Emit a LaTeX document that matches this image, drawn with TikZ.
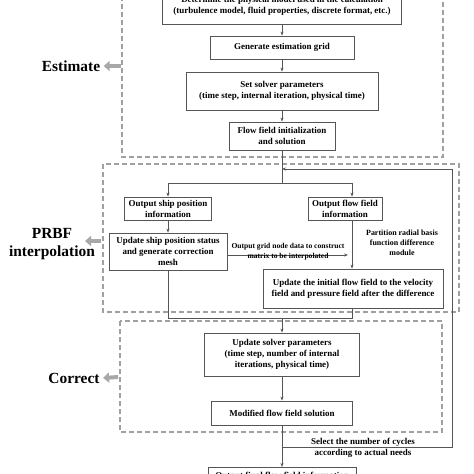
\documentclass[tikz,border=0pt]{standalone}
\usepackage{fontspec}
\setmainfont{Liberation Serif}
\usetikzlibrary{arrows.meta}
\definecolor{boxline}{HTML}{555555}
\definecolor{dashgray}{HTML}{A0A0A0}
\definecolor{bigarrow}{HTML}{A8A8A8}
\tikzset{
  stepbox/.style={draw=boxline, line width=0.8bp, fill=white, align=center, inner sep=1bp,
    font=\bfseries\fontsize{9}{11}\selectfont},
  phase/.style={draw=dashgray, line width=1.4bp, dash pattern=on 5bp off 3bp},
  flow/.style={draw=boxline, line width=0.8bp},
  arr/.style={flow, -{Stealth[length=4bp,width=3bp]}},
  sidearrow/.style={draw=bigarrow, line width=4bp, -{Triangle[length=6bp,width=10bp]}},
  sidelabel/.style={align=center, font=\bfseries\fontsize{15.5}{18}\selectfont},
  note/.style={align=center, font=\bfseries\fontsize{8}{10}\selectfont, inner sep=0pt},
}
\begin{document}
\begin{tikzpicture}[x=1bp, y=-1bp]
\useasboundingbox (0,0) rectangle (474,474);
\clip (0,0) rectangle (474,474);
\fill[white] (0,0) rectangle (474,474);

% phase boxes
\draw[phase] (122,-20) rectangle (443,157);
\draw[phase] (103,164) rectangle (459,312);
\draw[phase] (120,321) rectangle (442,432);

% side labels
\node[sidelabel] (est) at (71,66) {Estimate};
\node[sidelabel] (prbf) at (52,244) {PRBF\\interpolation};
\node[sidelabel] (cor) at (74,378) {Correct};
\coordinate (estE) at (121,66);
\coordinate (prbfE) at (101,241);
\coordinate (corE) at (118,377);
\draw[sidearrow] (estE) -- (est.east);
\draw[sidearrow] (prbfE) -- ++(-16,0);
\draw[sidearrow] (corE) -- (cor.east);

% estimate boxes
\node[stepbox, minimum width=239bp, minimum height=36bp] (b1) at (282,6)
  {Determine the physical model used in the calculation\\(turbulence model, fluid properties, discrete format, etc.)};
\node[stepbox, minimum width=144bp, minimum height=23bp] (b2) at (282,47.5) {Generate estimation grid};
\node[stepbox, minimum width=192bp, minimum height=38bp] (b3) at (282,91)
  {Set solver parameters\\(time step, internal iteration, physical time)};
\node[stepbox, minimum width=106bp, minimum height=28bp] (b4) at (282,136)
  {Flow field initialization\\and solution};

\draw[arr] (b1) -- (b2);
\draw[arr] (b2) -- (b3);
\draw[arr] (b3) -- (b4);

% PRBF boxes
\node[stepbox, minimum width=87bp, minimum height=23bp] (b6) at (168,208.5)
  {Output ship position\\information};
\node[stepbox, minimum width=74bp, minimum height=23bp] (b7) at (345,208.5)
  {Output flow field\\information};
\node[stepbox, minimum width=118bp, minimum height=37bp] (b8) at (168,251.5)
  {Update ship position status\\and generate correction\\mesh};
\node[stepbox, minimum width=180bp, minimum height=39bp] (b9) at (353,288.5)
  {Update the initial flow field to the velocity\\field and pressure field after the difference};

\coordinate (fb) at (282,169);
\coordinate (j1) at (282,183);
\coordinate (jL) at (168,183);
\coordinate (jR) at (352,183);
\draw[flow] (b4) -- (j1);
\draw[flow] (jL) -- (jR);
\draw[arr] (jL) -- (b6);
\draw[arr] (jR) -- (jR |- b7.north);
\draw[arr] (b6) -- (b8);
\coordinate (b7s) at (352,220);
\draw[arr] (b7s) -- (b7s |- b9.north);

\coordinate (gridE) at (348,255);
\draw[arr] (b8.east |- gridE) -- (gridE);
\node[note, font=\bfseries\fontsize{7.6}{10}\selectfont] (gridtxt) at (288,252)
  {Output grid node data to construct\\matrix to be interpolated};
\node[note] (part) at (402,243) {Partition radial basis\\function difference\\module};

\coordinate (m8) at (168,318);
\coordinate (m9) at (352,318);
\coordinate (mC) at (282,318);
\draw[flow] (b8) -- (m8) -- (mC);
\draw[flow] (b9.south -| m9) -- (m9) -- (mC);

% correct boxes
\node[stepbox, minimum width=155bp, minimum height=43bp] (b10) at (282,354.5)
  {Update solver parameters\\(time step, number of internal\\iterations, physical time)};
\node[stepbox, minimum width=141bp, minimum height=24bp] (b11) at (282,413)
  {Modified flow field solution};
\node[stepbox, minimum width=148bp, minimum height=18bp, anchor=north] (b12) at (282,467)
  {Output final flow field information};

\draw[arr] (mC) -- (b10);
\draw[arr] (b10) -- (b11);
\draw[arr] (b11) -- (b12);

% feedback loop
\coordinate (j2) at (282,447);
\coordinate (fbR) at (452,447);
\coordinate (fbT) at (452,169);
\draw[arr] (j2) -- (fbR) -- (fbT) -- (fb);
\node[note, font=\bfseries\fontsize{9}{11}\selectfont] (cyc) at (363,448)
  {Select the number of cycles\\according to actual needs};
\end{tikzpicture}
\end{document}
